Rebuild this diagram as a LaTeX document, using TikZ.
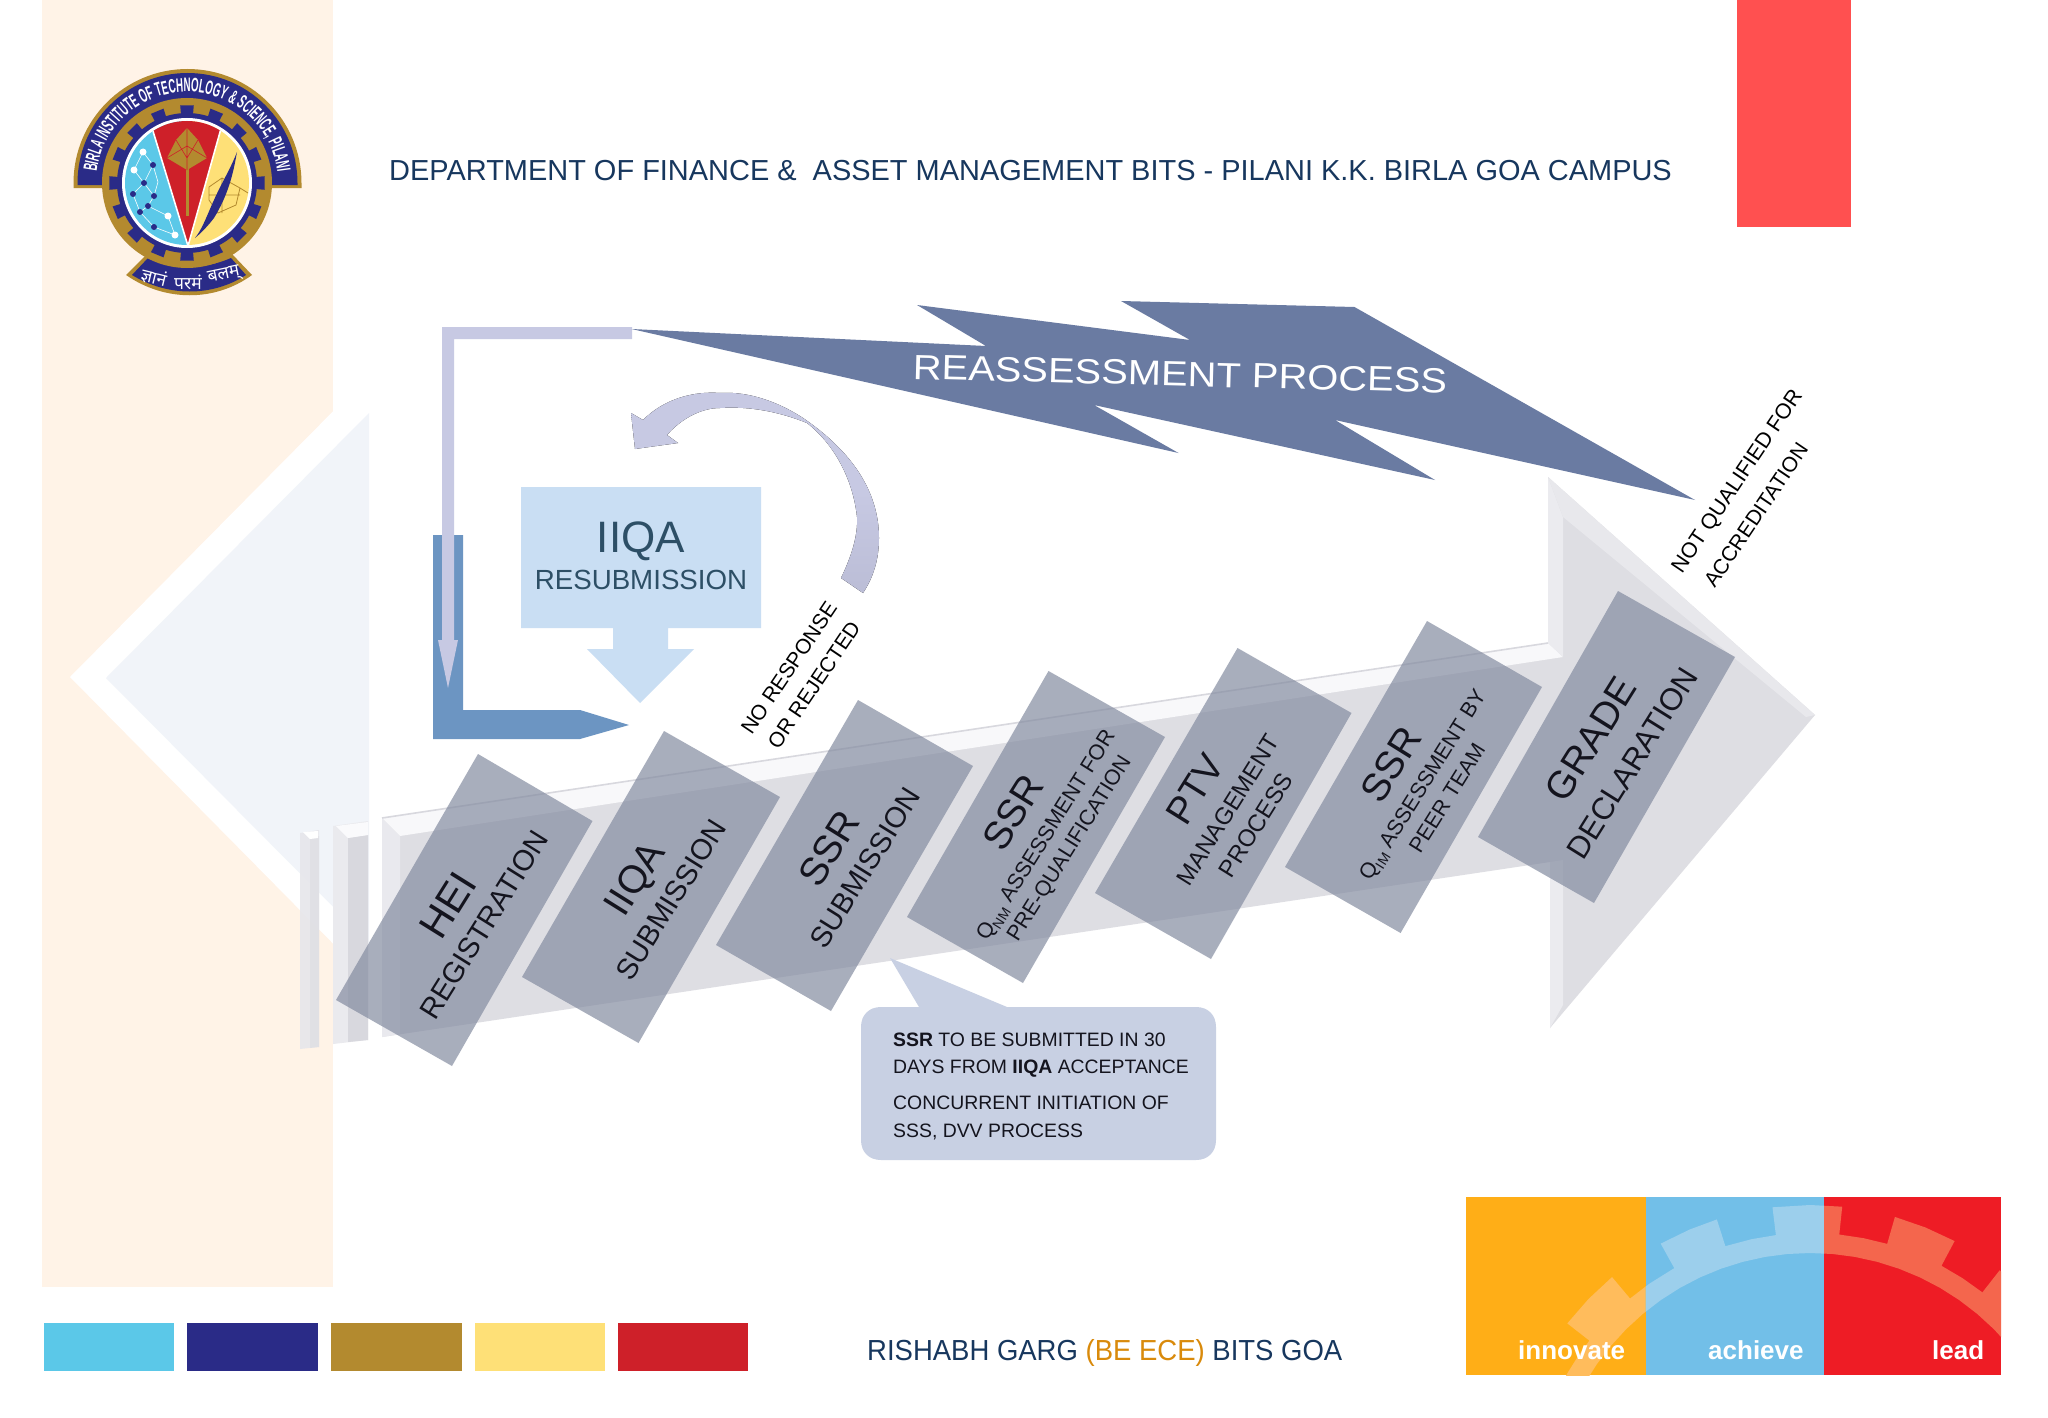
\documentclass[tikz,border=0pt]{standalone}
\usepackage{fontspec}
\usetikzlibrary{decorations.text}
\setmainfont{Liberation Sans}
\newfontfamily\logofont[FakeStretch=0.5]{Liberation Sans}
\newfontfamily\devfont[Script=Devanagari]{Noto Sans}
\newcommand\fsz[1]{\fontsize{#1}{#1}\selectfont}
\newcommand\gp[2]{({1810+(#1)*sin(#2)},{1513-(#1)*cos(#2)})}
\newcommand\lp[2]{({187+(#1)*sin(#2)},{183-(#1)*cos(#2)})}
\newcommand\subt[1]{\raisebox{-.22em}{\fsz{14}#1}}
\newcommand\gearfill[1]{\fill[#1] \gp{280}{-65}
 \foreach \r/\a in {280/-60,280/-56,280/-52,308/-52,308/-46,308/-40,280/-40,280/-35,280/-29,308/-29,308/-23,308/-17.6,280/-17.6,280/-12,280/-7,308/-7,308/0,308/6,280/6,280/11,280/16,308/16,308/22,308/28,280/28,280/33,280/38,308/38,308/44,308/50,280/50,280/55,260/55,260/50,260/45,260/40,260/35,260/30,260/25,260/20,260/15,260/10,260/5,260/0,260/-5,260/-10,260/-15,260/-20,260/-25,260/-30,260/-35,260/-40,260/-45,260/-50,260/-55,260/-60,260/-65}{ -- \gp{\r}{\a} } -- cycle;}
\definecolor{band}{HTML}{FFF3E7}
\definecolor{navy}{HTML}{17375E}
\definecolor{ornge}{HTML}{D98A0B}
\definecolor{boxc}{HTML}{828A9F}
\definecolor{txtd}{HTML}{14141E}
\definecolor{bolt}{HTML}{6A7BA2}
\definecolor{lilac}{HTML}{C7C9E3}
\definecolor{lilacd}{HTML}{BBBDD6}
\definecolor{steel}{HTML}{6C95C2}
\definecolor{pale}{HTML}{C9DEF3}
\definecolor{tealt}{HTML}{2D4F66}
\definecolor{callc}{HTML}{C8D0E3}
\definecolor{sky}{HTML}{5BC8E8}
\definecolor{indig}{HTML}{2A2B87}
\definecolor{gold}{HTML}{B38A2F}
\definecolor{sun}{HTML}{FEE077}
\definecolor{crim}{HTML}{CE2029}
\definecolor{redtab}{HTML}{FF5050}
\definecolor{faint}{HTML}{F1F4F9}
\definecolor{bara}{HTML}{E6E6EB}
\definecolor{barb}{HTML}{DADAE0}
\definecolor{barc}{HTML}{EAEAEE}
\definecolor{bard}{HTML}{D8D8DE}
\definecolor{bare}{HTML}{FAFAFC}
\definecolor{front}{HTML}{DEDEE3}
\definecolor{bevt}{HTML}{F8F8FA}
\definecolor{bevl}{HTML}{E9E9EE}
\definecolor{bevh}{HTML}{EBEBEF}
\definecolor{bevd}{HTML}{E8E8EC}
\definecolor{edgec}{HTML}{D8D8DE}
\definecolor{blko}{HTML}{FFAE17}
\definecolor{blkb}{HTML}{72BFE8}
\definecolor{blkr}{HTML}{EE1C25}
\definecolor{gearo}{HTML}{FFBC5C}
\definecolor{gearb}{HTML}{9CCFEC}
\definecolor{gearr}{HTML}{F4664D}
\tikzset{
  dbox/.style={fill=boxc,opacity=.69},
  boxtext/.style={rotate=58,text=txtd,inner sep=0pt,align=center},
  sidetext/.style={rotate=56,text=black,inner sep=0pt,align=center},
  calltext/.style={anchor=base west,text=txtd,inner sep=0pt},
  logotext/.style={text=white,inner sep=0pt},
}
\begin{document}
\begin{tikzpicture}[x=1pt,y=-1pt]
\useasboundingbox (0,0) rectangle (2048,1418);
\fill[white] (0,0) rectangle (2048,1418);
% backgrounds
\fill[band] (42,0) rectangle (333,1287);
\fill[redtab] (1737,0) rectangle (1851,227);
% faint left arrow
\fill[white] (70,677) -- (369,375) -- (369,980) -- cycle;
\fill[faint] (106,678) -- (369,413) -- (369,943) -- cycle;
% small bars
\fill[bara,opacity=.9] (300,833) -- (319,830) -- (319,1047) -- (300,1049) -- cycle;
\fill[barb,opacity=.5] (310,838) -- (319,836) -- (319,1047) -- (310,1048) -- cycle;
\fill[white] (303,832) -- (318,831) -- (318,838) -- (310,839) -- cycle;
\fill[barc] (333,826) -- (368,821) -- (368,1040) -- (333,1044) -- cycle;
\fill[bard] (348,838) -- (368,835) -- (368,1040) -- (348,1042) -- cycle;
\fill[bare] (336,826) -- (368,822) -- (368,835) -- (348,838) -- cycle;
% main arrow
\fill[front] (382,818) -- (1548,643) -- (1548,477) -- (1815,715) -- (1550,1028) -- (1550,862) -- (382,1037) -- cycle;
\fill[bevt] (382,818) -- (1548,643) -- (1563,657) -- (400,836) -- cycle;
\fill[bevl] (382,818) -- (400,836) -- (400,1034) -- (382,1037) -- cycle;
\fill[bevh] (1548,643) -- (1548,477) -- (1563,517) -- (1563,657) -- cycle;
\fill[bevh] (1550,862) -- (1563,860) -- (1563,1005) -- (1550,1028) -- cycle;
\fill[bevd] (1548,477) -- (1815,715) -- (1806,717) -- (1563,517) -- cycle;
\draw[edgec,line width=1.6pt] (382,818) -- (1548,643);
% diagonal boxes
\fill[dbox] (336,1000) -- (478,754) -- (592.5,821) -- (452,1066) -- cycle;
\fill[dbox] (522,977) -- (664,731) -- (780,797) -- (638.5,1043) -- cycle;
\fill[dbox] (716,945) -- (858,700) -- (973,766) -- (831,1011) -- cycle;
\fill[dbox] (907,917) -- (1048.5,671) -- (1165,737) -- (1023,983) -- cycle;
\fill[dbox] (1095,893) -- (1237.5,648) -- (1351.5,713) -- (1211,959) -- cycle;
\fill[dbox] (1285,867) -- (1427,621) -- (1542,687) -- (1400.6,933) -- cycle;
\fill[dbox] (1478,837) -- (1618,591) -- (1735,657) -- (1594,903) -- cycle;
% box texts
\node[boxtext,font=\fsz{41}] (hei) at (448,905) {HEI};
\node[boxtext,font=\fsz{29}] (reg) at (484,925) {REGISTRATION};
\node[boxtext,font=\fsz{39}] (iiqa) at (637,880) {IIQA};
\node[boxtext,font=\fsz{29}] (sub1) at (671,900) {SUBMISSION};
\node[boxtext,font=\fsz{39}] (ssr1) at (829,848) {SSR};
\node[boxtext,font=\fsz{29}] (sub2) at (865,868) {SUBMISSION};
\node[boxtext,font=\fsz{39}] (ssr2) at (1013,812) {SSR};
\node[boxtext,font=\fsz{21.5}] (qnm) at (1047,836) {Q\subt{NM} ASSESSMENT FOR};
\node[boxtext,font=\fsz{21.5}] (preq) at (1070,849) {PRE-QUALIFICATION};
\node[boxtext,font=\fsz{38}] (ptv) at (1195,789) {PTV};
\node[boxtext,font=\fsz{24}] (mgmt) at (1228,810) {MANAGEMENT};
\node[boxtext,font=\fsz{24}] (proc) at (1256,825) {PROCESS};
\node[boxtext,font=\fsz{39}] (ssr3) at (1391,764) {SSR};
\node[boxtext,font=\fsz{21.5}] (qim) at (1424,786) {Q\subt{IM} ASSESSMENT BY};
\node[boxtext,font=\fsz{21.5}] (peer) at (1447,798) {PEER TEAM};
\node[boxtext,font=\fsz{38.5}] (grade) at (1591,739) {GRADE};
\node[boxtext,font=\fsz{31}] (decl) at (1632,763) {DECLARATION};
% blue L arrow
\fill[steel] (433,535) -- (463,535) -- (463,710) -- (580,710) -- (629,725) -- (580,739) -- (433,739) -- cycle;
% lilac L arrow
\fill[lilac] (632,327) -- (632,339) -- (454,339) -- (454,640) -- (458,640) -- (448,688) -- (438,640) -- (442,640) -- (442,327) -- cycle;
% curved arrow
\fill[top color=lilac,bottom color=lilacd,middle color=lilac] (631,413) -- (643,420) .. controls (665,398) and (695,391) .. (720,393)
  .. controls (750,391) and (780,403) .. (803,418) .. controls (850,450) and (879,490) .. (879,538)
  .. controls (879,560) and (873,578) .. (863,593)
  -- (841,578) .. controls (852,555) and (858,535) .. (857,517)
  .. controls (853,480) and (835,445) .. (807,423) .. controls (780,412) and (750,406) .. (720,408)
  .. controls (700,408) and (680,420) .. (667,435)
  -- (678,443) -- (635,449) -- cycle;
% bolt
\fill[bolt] (631.5,329) -- (986,346) -- (917,305) -- (1190,340) -- (1121,301) -- (1354.5,307) -- (1695,500) -- (1335,420) -- (1435,480) -- (1094,405) -- (1178.5,453) -- cycle;
\node[text=white,inner sep=0pt,rotate=-1.5,font=\fsz{35},xscale=1.14] (reass) at (1180,374) {REASSESSMENT PROCESS};
% resubmission
\fill[pale] (521,487) -- (761,487) -- (761,628) -- (668,628) -- (668,649) -- (694,649) -- (640,703) -- (587,649) -- (613,649) -- (613,628) -- (521,628) -- cycle;
\node[text=tealt,inner sep=0pt,font=\fsz{44}] (iiqar) at (641,541) {IIQA};
\node[text=tealt,inner sep=0pt,font=\fsz{27.7}] (resub) at (641,580) {RESUBMISSION};
% side texts
\node[sidetext,font=\fsz{21}] (nores) at (789,668) {NO RESPONSE};
\node[sidetext,font=\fsz{21}] (orrej) at (814,685) {OR REJECTED};
\node[sidetext,font=\fsz{21.5}] (notq) at (1738,482) {NOT QUALIFIED FOR};
\node[sidetext,font=\fsz{21}] (accr) at (1756,515) {ACCREDITATION};
% callout
\fill[callc] (881,1007) -- (919,1007) -- (890,958) -- (1007,1007) -- (1196,1007) .. controls (1208,1007) and (1216,1015) .. (1216,1027) -- (1216,1140) .. controls (1216,1152) and (1208,1160) .. (1196,1160) -- (881,1160) .. controls (869,1160) and (861,1152) .. (861,1140) -- (861,1027) .. controls (861,1015) and (869,1007) .. (881,1007) -- cycle;
\node[calltext,font=\fsz{19.4}] (c1) at (893,1046) {\textbf{SSR} TO BE SUBMITTED IN 30};
\node[calltext,font=\fsz{19.4}] (c2) at (893,1073) {DAYS FROM \textbf{IIQA} ACCEPTANCE};
\node[calltext,font=\fsz{19.4}] (c3) at (893,1109) {CONCURRENT INITIATION OF};
\node[calltext,font=\fsz{19.4}] (c4) at (893,1137) {SSS, DVV PROCESS};
% title and footer
\node[anchor=base west,text=navy,inner sep=0pt,font=\fsz{28.95}] (title) at (389,180) {DEPARTMENT OF FINANCE \&\ \ ASSET MANAGEMENT BITS - PILANI K.K. BIRLA GOA CAMPUS};
\node[anchor=base west,text=navy,inner sep=0pt,font=\fsz{29},xscale=.948] (foot) at (867,1360) {RISHABH GARG \textcolor{ornge}{(BE ECE)} BITS GOA};
% swatches
\fill[sky] (44,1323) rectangle (174,1371);
\fill[indig] (187,1323) rectangle (318,1371);
\fill[gold] (331,1323) rectangle (462,1371);
\fill[sun] (475,1323) rectangle (605,1371);
\fill[crim] (618,1323) rectangle (748,1371);
% innovate block
\fill[blko] (1466,1197) rectangle (1645.5,1375);
\fill[blkb] (1645.5,1197) rectangle (1824,1375);
\fill[blkr] (1824,1197) rectangle (2001,1375);
\begin{scope}
\clip (1466,1197) rectangle (1645.5,1375);
\gearfill{gearo}
\end{scope}
\begin{scope}
\clip (1645.5,1197) rectangle (1824,1375);
\gearfill{gearb}
\end{scope}
\begin{scope}
\clip (1824,1197) rectangle (2001,1375);
\gearfill{gearr}
\end{scope}
\node[anchor=base west,text=white,inner sep=0pt,font=\fsz{26}\bfseries] (innov) at (1518,1359) {innovate};
\node[anchor=base west,text=white,inner sep=0pt,font=\fsz{26}\bfseries] (achv) at (1708,1359) {achieve};
\node[anchor=base west,text=white,inner sep=0pt,font=\fsz{26}\bfseries] (lead) at (1932,1359) {lead};
% ---- logo ----
% top banner
\fill[gold] (73.5,188) -- (73.5,183) arc[start angle=180,end angle=360,radius=114] -- (301.5,188) -- cycle;
\fill[indig] (77.5,185) -- (77.5,183) arc[start angle=180,end angle=360,radius=110] -- (297.5,185) -- cycle;
\path[decorate,decoration={text along path,text align=center,text color=white,
  text={|\logofont\bfseries\fsz{19.5}|BIRLA INSTITUTE OF TECHNOLOGY {\&} SCIENCE, PILANI}}]
  (96,183) arc[start angle=180,end angle=360,radius=91];
% bottom ribbon
\fill[gold] (126,275) -- (147,254) .. controls (170,266) and (205,266) .. (232,254) -- (252,275) .. controls (215,302) and (165,302) .. (126,275) -- cycle;
\fill[indig] (132,275) -- (148,258) .. controls (172,270) and (204,270) .. (231,258) -- (246,275) .. controls (212,297) and (168,297) .. (132,275) -- cycle;
\node[logotext,rotate=-14,font=\devfont\fsz{17.5}] (hi1) at (154,277) {ज्ञानं};
\node[logotext,font=\devfont\fsz{17.5}] (hi2) at (188,282) {परमं};
\node[logotext,rotate=12,font=\devfont\fsz{17.5}] (hi3) at (224,276) {बलम्};
% gear
\fill[gold] (187,183) circle[radius=85];
\fill[indig] (187,183) circle[radius=70];
\foreach \t in {0,22.5,...,337.5}{
  \fill[indig] \lp{66}{\t-5} -- \lp{78}{\t-5} -- \lp{78}{\t+5} -- \lp{66}{\t+5} -- cycle;
}
\fill[white] (187,183) circle[radius=65];
\begin{scope}
\clip (187,183) circle[radius=62];
\fill[sky] (120,110) rectangle (188,260);
\fill[sun] (188,110) rectangle (260,260);
\fill[crim] (188,246) -- (149,118) -- (224,118) -- cycle;
\draw[white,line width=1.6pt] (188,246) -- (149,118);
\draw[white,line width=1.6pt] (188,246) -- (224,118);
\end{scope}
% left panel web
\draw[white,line width=.6pt] (143,152) -- (153,165) -- (144,183) -- (134,170) -- (143,152) (144,183) -- (133,194) -- (140,212) -- (148,206) -- (154,196) -- (144,183) (148,206) -- (168,216) -- (175,235) -- (154,227) -- (140,212) (153,165) -- (158,182) -- (154,196);
\foreach \x/\y in {143/152,134/170,168/216,175/235}{\fill[white] (\x,\y) circle[radius=3.5];}
\foreach \x/\y in {153/165,144/183,133/194,154/196,148/206,140/212,154/227}{\fill[indig] (\x,\y) circle[radius=3];}
% lotus
\fill[gold] (185.5,165) rectangle (188.5,216);
\fill[gold] (187,128) -- (198,140) -- (207,158) -- (187,170) -- (167,158) -- (176,140) -- cycle;
\draw[crim,line width=.6pt] (167,158) -- (187,146) -- (207,158) (187,128) -- (187,170) (176,140) -- (187,158) -- (198,140);
% rocket and web
\draw[gold,line width=.8pt] (209,187) -- (222,178) -- (240,188) -- (236,205) -- (218,213) -- (209,200) -- cycle (222,178) -- (222,213) (209,195) -- (240,195) (240,188) -- (248,193);
\fill[indig] (237,152) .. controls (233,175) and (228,195) .. (214,218) .. controls (208,226) and (200,234) .. (195,238) .. controls (203,228) and (207,215) .. (214,200) .. controls (222,182) and (230,170) .. (237,152) -- cycle;
\end{tikzpicture}
\end{document}
